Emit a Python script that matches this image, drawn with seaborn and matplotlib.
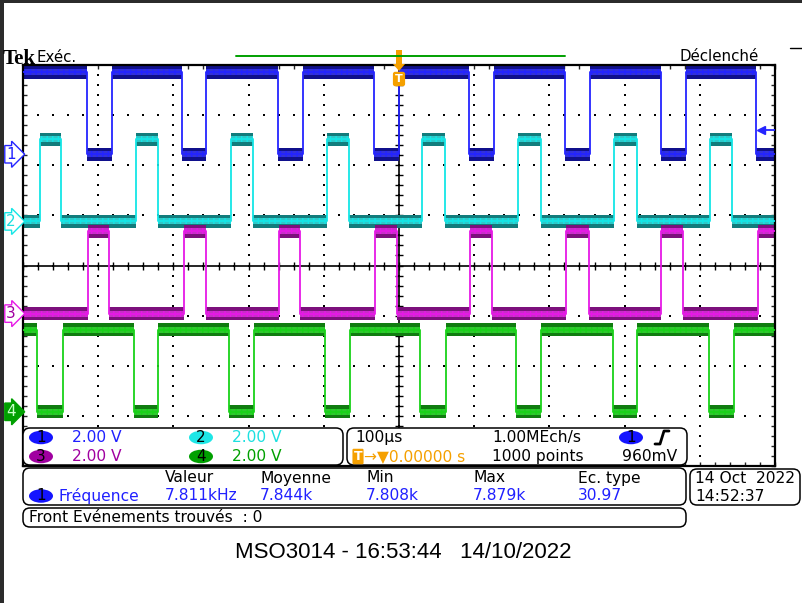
import numpy as np
import pandas as pd
import matplotlib
matplotlib.use("Agg")
import matplotlib.pyplot as plt
import seaborn as sns
from matplotlib.patches import Ellipse, FancyBboxPatch, Polygon, Rectangle
from matplotlib.lines import Line2D

# -----------------------------
# Data
# edge times in microseconds, trigger at t = 0
# -----------------------------
ch1_fall_us = [-415, -288, -161, -33, 93, 221, 348, 475]
ch1_rise_us = [-382, -256, -128, 0, 126, 254, 381]
ch2_rise_us = [-478, -350, -224, -96, 31, 158, 286, 414]
ch2_fall_us = [-449, -321, -194, -67, 61, 189, 316, 443]
ch3_rise_us = [-414, -286, -160, -32, 95, 222, 349, 477]
ch3_fall_us = [-385, -257, -131, -3, 124, 252, 378]
ch4_fall_us = [-481, -353, -226, -99, 28, 156, 284, 412]
ch4_rise_us = [-447, -320, -193, -65, 63, 189, 317, 445]

channels = ["1", "2", "3", "4"]
start_high = [True, False, False, True]
offset_div = [2.22, 0.88, -0.96, -2.92]
high_volts = 3.28
volts_per_div = 2.0
trig_level_volts = 0.96

time_per_div_us = 100
n_div_x = 10
n_div_y = 8

# readout panel values
ch_scale_labels = ["2.00 V", "2.00 V", "2.00 V", "2.00 V"]
meas_headers = ["Valeur", "Moyenne", "Min", "Max", "Ec. type"]
meas_values = ["7.811kHz", "7.844k", "7.808k", "7.879k", "30.97"]

# colours
edge_col = {"1": "#2424ff", "2": "#14e6e6", "3": "#e619e6", "4": "#19d219"}
band_dark = {"1": "#10108c", "2": "#127c7c", "3": "#7c107c", "4": "#107c10"}
band_mid = {"1": "#3232d8", "2": "#2ec8c8", "3": "#c82ec8", "4": "#2ec82e"}
badge_col = {"1": "#1414ff", "2": "#1ee6e6", "3": "#a000a0", "4": "#00a000"}
text_col = {"1": "#2020ff", "2": "#1ee0e0", "3": "#a000a0", "4": "#00a000"}
orange = "#f5a000"

rises = [ch1_rise_us, ch2_rise_us, ch3_rise_us, ch4_rise_us]
falls = [ch1_fall_us, ch2_fall_us, ch3_fall_us, ch4_fall_us]


def square(rise, fall, high_first, low, high):
    events = sorted([(t, high) for t in rise] + [(t, low) for t in fall])
    lvl = high if high_first else low
    ts, ys = [-500], [lvl]
    for t, new in events:
        ts += [t, t]
        ys += [lvl, new]
        lvl = new
    ts.append(500)
    ys.append(lvl)
    return ts, ys


rows = []
for ch, r, f, hf, off in zip(channels, rises, falls, start_high, offset_div):
    ts, ys = square(r, f, hf, off, off + high_volts / volts_per_div)
    for t, y in zip(ts, ys):
        rows.append({"ch": ch, "t": t, "div": y})
df = pd.DataFrame(rows)

# -----------------------------
# Figure
# -----------------------------
sns.set_style("white")
plt.rcParams["font.family"] = ["DejaVu Sans"]
plt.rcParams["text.color"] = "black"

W, H = 802, 603
fig = plt.figure(figsize=(W / 100, H / 100), dpi=100)
tr = fig.dpi_scale_trans


def P(x, y):
    return (x / 100, (H - y) / 100)


gx0, gx1, gy0, gy1 = 23, 775, 65, 466
ax = fig.add_axes([gx0 / W, 1 - gy1 / H, (gx1 - gx0) / W, (gy1 - gy0) / H])
xmax = time_per_div_us * n_div_x / 2
ax.set_xlim(-xmax, xmax)
ax.set_ylim(-n_div_y / 2, n_div_y / 2)

# graticule dots
minor_x = np.arange(-xmax, xmax + 1, time_per_div_us / 5)
minor_y = np.arange(-4, 4.01, 0.2)
for gx in np.arange(-400, 401, 100):
    ax.scatter(np.full(minor_y.size, gx), minor_y, s=1.2, c="black", marker="s", lw=0, zorder=1)
for gy in np.arange(-3, 4, 1):
    ax.scatter(minor_x, np.full(minor_x.size, gy), s=1.2, c="black", marker="s", lw=0, zorder=1)
ax.axvline(0, color="black", lw=1.2, zorder=1)
ax.axhline(0, color="black", lw=1.2, zorder=1)
ax.plot(np.zeros(minor_y.size), minor_y, ls="none", marker="_", ms=6, mew=1, color="black", zorder=1)
ax.plot(minor_x, np.zeros(minor_x.size), ls="none", marker="|", ms=6, mew=1, color="black", zorder=1)

ax.set_xticks(np.arange(-xmax, xmax + 1, time_per_div_us))
ax.set_xticks(minor_x, minor=True)
ax.set_yticks(np.arange(-4, 5, 1))
ax.set_yticks(minor_y, minor=True)
ax.tick_params(which="both", direction="in", top=True, right=True, bottom=True, left=True,
               length=3, width=1, labelbottom=False, labelleft=False)
for s in ax.spines.values():
    s.set_color("black")
    s.set_linewidth(1.6)

# level bands (persistence look)
plt.rcParams["hatch.linewidth"] = 1.0
for ch in channels:
    d = df[df["ch"] == ch].reset_index(drop=True)
    for i in range(len(d) - 1):
        if d.loc[i, "div"] == d.loc[i + 1, "div"] and d.loc[i + 1, "t"] > d.loc[i, "t"]:
            t0, t1, y = d.loc[i, "t"], d.loc[i + 1, "t"], d.loc[i, "div"]
            ax.fill_between([t0, t1], y - 0.13, y + 0.13, color=band_dark[ch], lw=0, zorder=2)
            ax.fill_between([t0, t1], y - 0.06, y + 0.06, facecolor=band_mid[ch],
                            edgecolor=edge_col[ch], hatch="|||", lw=0, zorder=2)

sns.lineplot(data=df, x="t", y="div", hue="ch", palette=edge_col, estimator=None,
             sort=False, legend=False, lw=1.3, ax=ax, zorder=3)
ax.set_xlabel("")
ax.set_ylabel("")

# trigger level arrow
trig_div = offset_div[0] + trig_level_volts / volts_per_div
ax.plot([0.985, 1.0], [trig_div, trig_div], transform=ax.get_yaxis_transform(),
        color=edge_col["1"], lw=1.3, zorder=4)
ax.plot([0.982], [trig_div], transform=ax.get_yaxis_transform(), marker="<", ms=6,
        color=edge_col["1"], zorder=4)

# -----------------------------
# Decorations outside the graticule
# -----------------------------
fig.add_artist(Rectangle(P(0, H), 4 / 100, H / 100, transform=tr, fc="#2b2b2b", ec="none"))
fig.add_artist(Rectangle(P(0, 3), W / 100, 3 / 100, transform=tr, fc="#2b2b2b", ec="none"))

fig.text(*P(3, 64), "Tek", transform=tr, family="Liberation Serif", weight="bold",
         fontsize=15, va="baseline", color="black")
fig.text(*P(37, 62), "Exéc.", transform=tr, fontsize=10.8, va="baseline")
fig.text(*P(759, 61), "Déclenché", transform=tr, fontsize=10.8, va="baseline", ha="right")
fig.add_artist(Line2D([790 / 100, 802 / 100], [(H - 48) / 100] * 2, transform=tr, color="black", lw=1))

# record bar and trigger position marker
fig.add_artist(Line2D([236 / 100, 565 / 100], [(H - 56) / 100] * 2, transform=tr, color="#00a000", lw=1.4))
fig.add_artist(Rectangle(P(396, 65), 6 / 100, 15 / 100, transform=tr, fc=orange, ec="none"))
fig.add_artist(Polygon([P(393, 64), P(405, 64), P(399, 71)], transform=tr, fc=orange, ec="none"))
fig.text(*P(399, 79), "T", transform=tr, ha="center", va="center", color="white", weight="bold",
         fontsize=8, bbox=dict(boxstyle="round,pad=0.2", fc=orange, ec="none"))

# channel ground markers
for ch, off in zip(channels, offset_div):
    ypx = 265.5 - off * 50.1
    if ch == "4":
        kw = dict(fc=badge_col[ch], ec=badge_col[ch])
        tc = "#c8ffc8"
    else:
        kw = dict(fc="white", ec=edge_col[ch])
        tc = text_col[ch]
    fig.text(*P(6, ypx), ch, transform=tr, ha="left", va="center", color=tc, fontsize=11,
             bbox=dict(boxstyle="rarrow,pad=0.08", lw=1, **kw))


# -----------------------------
# Readout panels
# -----------------------------
def panel(x0, y0, x1, y1):
    fig.add_artist(FancyBboxPatch(P(x0, y1), (x1 - x0) / 100, (y1 - y0) / 100, transform=tr,
                                  boxstyle="round,pad=0,rounding_size=0.07",
                                  fc="white", ec="black", lw=1.1, zorder=5))


def badge(cx, cy, ch):
    fig.add_artist(Ellipse(P(cx, cy), 0.24, 0.135, transform=tr, fc=badge_col[ch], ec="none", zorder=6))
    fig.text(*P(cx, cy), ch, transform=tr, ha="center", va="center", fontsize=11, color="black", zorder=7)


def txt(x, y, s, color="black", **kw):
    fig.text(*P(x, y), s, transform=tr, va="center", fontsize=11.2, color=color, zorder=7, **kw)


panel(23, 428, 343, 465)
panel(347, 428, 687, 465)
panel(23, 468, 686, 505)
panel(690, 469, 800, 505)
panel(23, 508, 686, 527)

badge_pos = [(41, 437.5), (201, 437.5), (41, 456.5), (201, 456.5)]
label_x = [72, 232, 72, 232]
for ch, (bx, by), lx, lab in zip(channels, badge_pos, label_x, ch_scale_labels):
    badge(bx, by, ch)
    txt(lx, by, lab, color=text_col[ch])

txt(355, 437.5, "100µs")
txt(492, 437.5, "1.00MEch/s")
badge(631, 437.5, "1")
fig.add_artist(Line2D([655 / 100, 660 / 100, 664 / 100, 669 / 100],
                      [(H - 444) / 100, (H - 444) / 100, (H - 431) / 100, (H - 431) / 100],
                      transform=tr, color="black", lw=2, zorder=7))
fig.text(*P(358, 456.5), "T", transform=tr, ha="center", va="center", color="white", weight="bold",
         fontsize=9, zorder=7, bbox=dict(boxstyle="round,pad=0.1", fc=orange, ec="none"))
txt(364, 456.5, "→▼0.00000 s", color=orange)
txt(492, 456.5, "1000 points")
txt(622, 456.5, "960mV")

meas_x = [165, 260, 366, 473, 578]
for mx, hd, val in zip(meas_x, meas_headers, meas_values):
    txt(mx, 478, hd)
    txt(mx, 496, val, color=text_col["1"])
badge(41, 496, "1")
txt(59, 496, "Fréquence", color=text_col["1"])

txt(695, 478.5, "14 Oct  2022")
txt(695, 496.5, "14:52:37")

txt(29, 517.5, "Front Evénements trouvés  : 0")

fig.text(*P(403, 558), "MSO3014 - 16:53:44   14/10/2022", transform=tr, ha="center",
         va="baseline", family="Liberation Sans", fontsize=16, color="black")

plt.savefig("out.png", dpi=100)
